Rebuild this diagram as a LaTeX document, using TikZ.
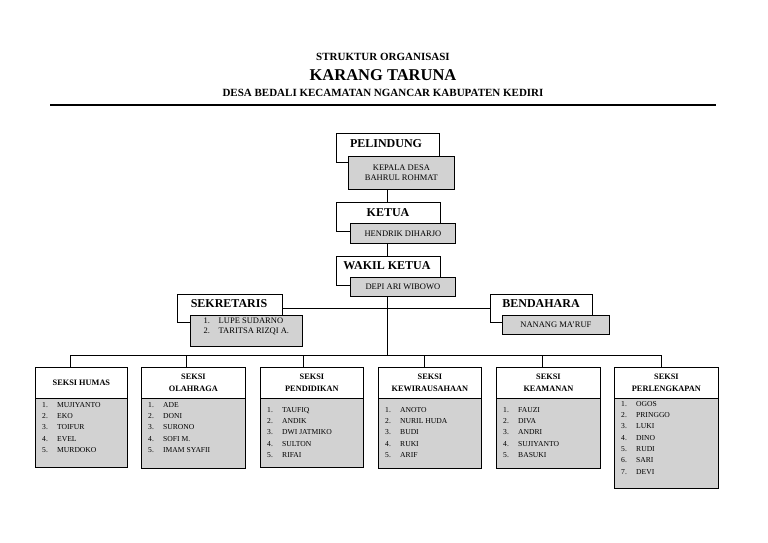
\documentclass[tikz,border=0pt]{standalone}
\usepackage{fontspec}
\setmainfont{Liberation Serif}
\newcommand{\itm}[2]{\makebox[15pt][l]{#1.}#2\\}
\begin{document}
\begin{tikzpicture}[x=1pt,y=-1pt,
 hdr/.style={draw,line width=0.8pt,fill=white,anchor=north west,inner sep=0pt},
 gbox/.style={draw,line width=0.8pt,fill=gray!35,anchor=north west,inner sep=0pt},
 ln/.style={draw,line width=0.7pt},
 ttl/.style={font=\bfseries\fontsize{11}{12}\selectfont},
 nm/.style={font=\fontsize{8.5}{10.5}\selectfont,align=center},
 lst/.style={font=\fontsize{7.6}{11.3}\selectfont,align=left,anchor=north west,inner sep=0pt},
 sh/.style={font=\bfseries\fontsize{8.3}{12}\selectfont,align=center}]
\useasboundingbox (0,0) rectangle (768,543);
\fill[white] (0,0) rectangle (768,543);
\node[ttl] (t1) at (383,57) {STRUKTUR ORGANISASI};
\node[font=\bfseries\fontsize{16.5}{18}\selectfont] (t2) at (383,75) {KARANG TARUNA};
\node[ttl] (t3) at (383,93) {DESA BEDALI KECAMATAN NGANCAR KABUPATEN KEDIRI};
\coordinate (r1) at (50,105); \coordinate (r2) at (716,105);
\draw[line width=1.8pt] (r1) -- (r2);
% connectors
\coordinate (v1) at (387,189); \coordinate (v2) at (387,355);
\draw[ln] (v1) -- (v2);
\coordinate (h1) at (282,308); \coordinate (h2) at (490,308);
\draw[ln] (h1) -- (h2);
\coordinate (b1) at (70,355); \coordinate (b2) at (661,355);
\draw[ln] (b1) -- (b2);
\foreach \x/\n in {70/a,186/b,303/c,424/d,542/e,661/f}{\coordinate (d\n) at (\x,355); \coordinate (e\n) at (\x,367); \draw[ln] (d\n) -- (e\n);}
% pelindung
\node[hdr,minimum width=103pt,minimum height=29pt] (ph) at (336,133) {};
\node[font=\bfseries\fontsize{12}{13}\selectfont] (pt) at (386,144) {PELINDUNG};
\node[gbox,minimum width=106pt,minimum height=33pt] (pg) at (348,156) {};
\node[nm] (pn) at (pg.center) {KEPALA DESA\\BAHRUL ROHMAT};
% ketua
\node[hdr,minimum width=104pt,minimum height=29pt] (kh) at (336,202) {};
\node[font=\bfseries\fontsize{12}{13}\selectfont] (kt) at (388,213) {KETUA};
\node[gbox,minimum width=105pt,minimum height=20pt] (kg) at (350,223) {};
\node[nm] (kn) at (kg.center) {HENDRIK DIHARJO};
% wakil
\node[hdr,minimum width=104pt,minimum height=29pt] (wh) at (336,256) {};
\node[font=\bfseries\fontsize{12}{13}\selectfont] (wt) at (387,266) {WAKIL KETUA};
\node[gbox,minimum width=105pt,minimum height=19pt] (wg) at (350,277) {};
\node[nm] (wn) at (wg.center) {DEPI ARI WIBOWO};
% sekretaris
\node[hdr,minimum width=105pt,minimum height=28pt] (sh) at (177,294) {};
\node[font=\bfseries\fontsize{12}{13}\selectfont] (st) at (229,304) {SEKRETARIS};
\node[gbox,minimum width=112pt,minimum height=31pt] (sg) at (190,315) {};
\node[nm,align=left] (sn) at (sg.center) {\itm{1}{LUPE SUDARNO}\itm{2}{TARITSA RIZQI A.}};
% bendahara
\node[hdr,minimum width=102pt,minimum height=28pt] (bh) at (490,294) {};
\node[font=\bfseries\fontsize{12}{13}\selectfont] (bt) at (541,304) {BENDAHARA};
\node[gbox,minimum width=107pt,minimum height=19pt] (bg) at (502,315) {};
\node[nm] (bn) at (bg.center) {NANANG MA'RUF};
% sections
\newcommand{\mysect}[7]{%
 \node[hdr,minimum width=#2pt,minimum height=31pt] (#1h) at (#3,367) {};
 \node[sh] (#1t) at (#1h.center) {#5};
 \node[gbox,minimum width=#2pt,minimum height=#4pt] (#1g) at (#3,398) {};
 \node[lst] (#1l) at (#3+7,#6) {#7};}
\mysect{a}{92}{35}{69}{SEKSI HUMAS}{402}{\itm1{MUJIYANTO}\itm2{EKO}\itm3{TOIFUR}\itm4{EVEL}\itm5{MURDOKO}}
\mysect{b}{104}{141}{70}{SEKSI\\OLAHRAGA}{402}{\itm1{ADE}\itm2{DONI}\itm3{SURONO}\itm4{SOFI M.}\itm5{IMAM SYAFII}}
\mysect{c}{103}{260}{69}{SEKSI\\PENDIDIKAN}{407}{\itm1{TAUFIQ}\itm2{ANDIK}\itm3{DWI JATMIKO}\itm4{SULTON}\itm5{RIFAI}}
\mysect{d}{103}{378}{70}{SEKSI\\KEWIRAUSAHAAN}{407}{\itm1{ANOTO}\itm2{NURIL HUDA}\itm3{BUDI}\itm4{RUKI}\itm5{ARIF}}
\mysect{e}{104}{496}{70}{SEKSI\\KEAMANAN}{407}{\itm1{FAUZI}\itm2{DIVA}\itm3{ANDRI}\itm4{SUJIYANTO}\itm5{BASUKI}}
\mysect{f}{104}{614}{90}{SEKSI\\PERLENGKAPAN}{401}{\itm1{OGOS}\itm2{PRINGGO}\itm3{LUKI}\itm4{DINO}\itm5{RUDI}\itm6{SARI}\itm7{DEVI}}
\end{tikzpicture}
\end{document}
